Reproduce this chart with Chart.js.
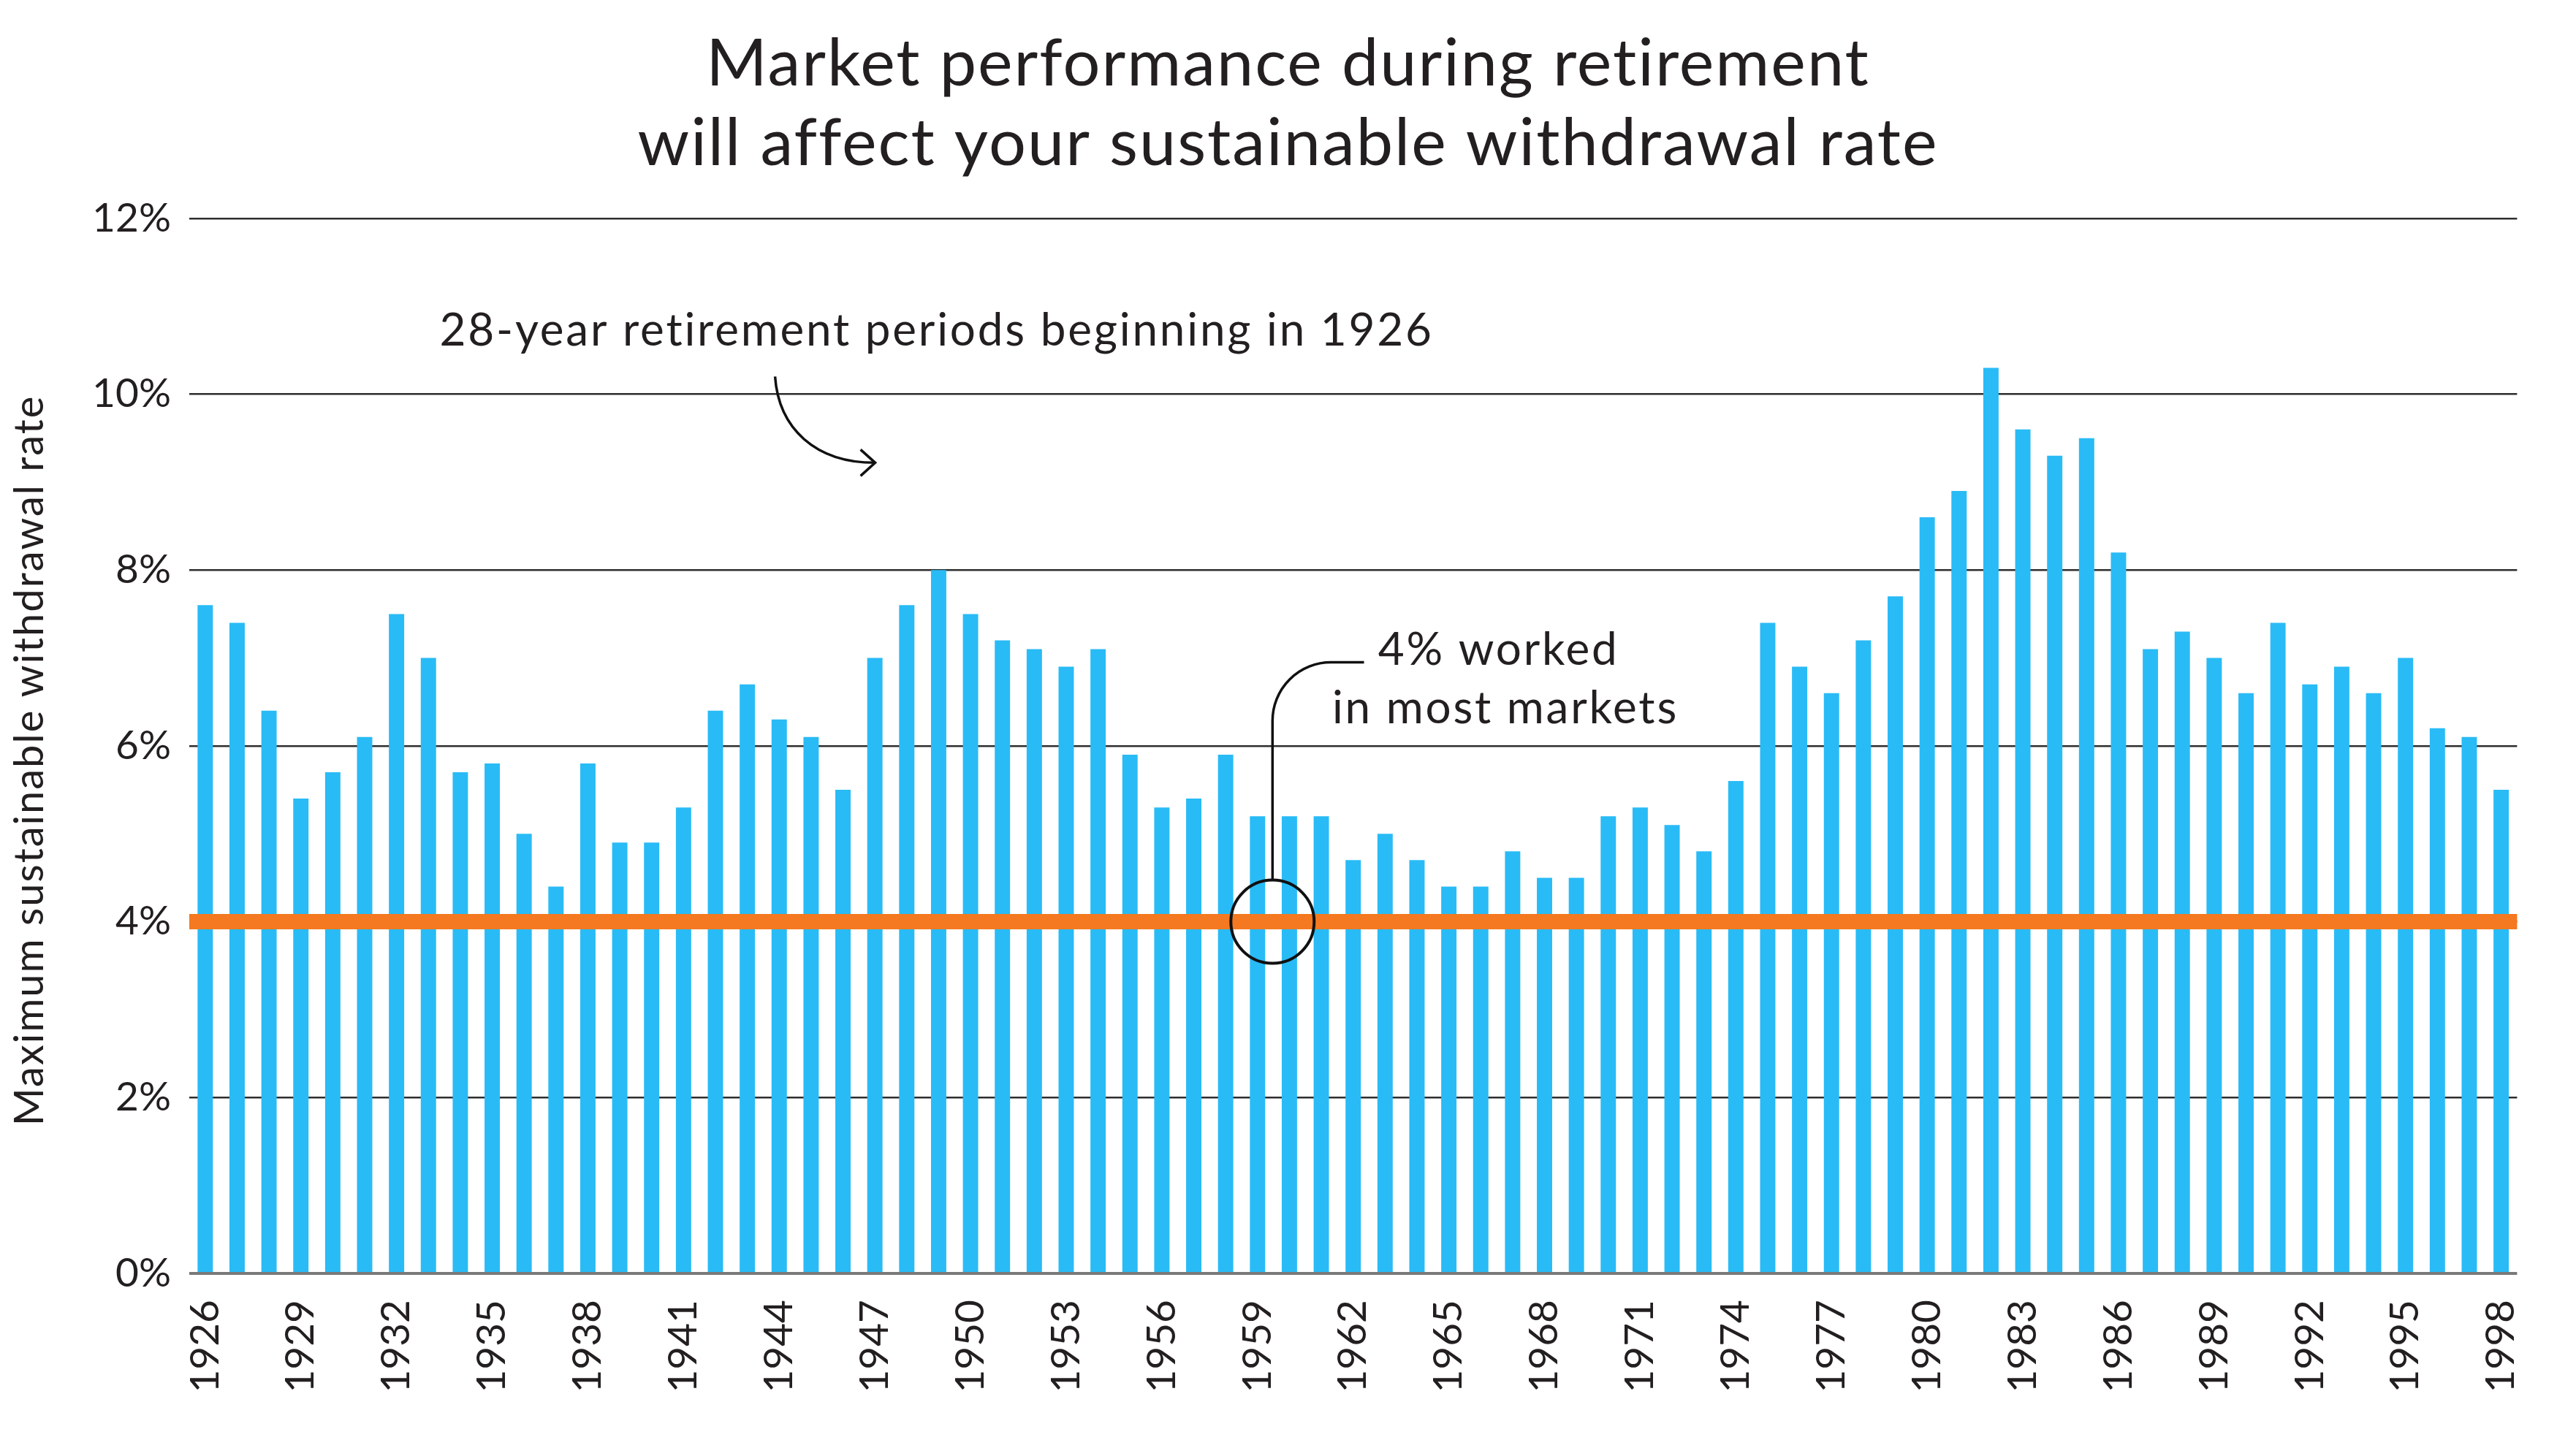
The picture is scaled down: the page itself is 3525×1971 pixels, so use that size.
<!DOCTYPE html>
<html>
<head>
<meta charset="utf-8">
<script src="https://cdn.jsdelivr.net/npm/chart.js@4.4.1/dist/chart.umd.min.js"></script>
<style>
  html, body { margin: 0; padding: 0; background: #fff; }
  #wrap { width: 3525px; height: 1971px; }
</style>
</head>
<body>
<div id="wrap"><canvas id="withdrawal-chart"></canvas></div>
<script>
// Chart data
const years = [
    '1926', '1927', '1928', '1929', '1930', '1931', '1932', '1933', '1934', '1935',
    '1936', '1937', '1938', '1939', '1940', '1941', '1942', '1943', '1944', '1945',
    '1946', '1947', '1948', '1949', '1950', '1951', '1952', '1953', '1954', '1955',
    '1956', '1957', '1958', '1959', '1960', '1961', '1962', '1963', '1964', '1965',
    '1966', '1967', '1968', '1969', '1970', '1971', '1972', '1973', '1974', '1975',
    '1976', '1977', '1978', '1979', '1980', '1981', '1982', '1983', '1984', '1985',
    '1986', '1987', '1988', '1989', '1990', '1991', '1992', '1993', '1994', '1995',
    '1996', '1997', '1998'
];
const withdrawalRates = [
    7.6, 7.4, 6.4, 5.4, 5.7, 6.1, 7.5, 7.0, 5.7, 5.8,
    5.0, 4.4, 5.8, 4.9, 4.9, 5.3, 6.4, 6.7, 6.3, 6.1,
    5.5, 7.0, 7.6, 8.0, 7.5, 7.2, 7.1, 6.9, 7.1, 5.9,
    5.3, 5.4, 5.9, 5.2, 5.2, 5.2, 4.7, 5.0, 4.7, 4.4,
    4.4, 4.8, 4.5, 4.5, 5.2, 5.3, 5.1, 4.8, 5.6, 7.4,
    6.9, 6.6, 7.2, 7.7, 8.6, 8.9, 10.3, 9.6, 9.3, 9.5,
    8.2, 7.1, 7.3, 7.0, 6.6, 7.4, 6.7, 6.9, 6.6, 7.0,
    6.2, 6.1, 5.5
];
const yTickValues = [0, 2, 4, 6, 8, 10, 12];
const ruleOfThumbRate = 4;
const labelEvery = 3;

const titleLines = [
    'Market performance during retirement',
    'will affect your sustainable withdrawal rate'
];
const yAxisTitle = 'Maximum sustainable withdrawal rate';
const periodNote = '28-year retirement periods beginning in 1926';
const workedNote = ['4% worked', 'in most markets'];

const fontFamily = 'Lato, "Noto Sans", sans-serif';
const textColor = '#231f20';
const barColor = '#29bbf6';
const orangeColor = '#f47920';

// Annotation layer: 4% rule line, callouts, arrow and the spaced-out texts
const annotationPlugin = {
    id: 'annotations',
    afterDatasetsDraw(chart) {
        const ctx = chart.ctx;
        const area = chart.chartArea;
        const x = chart.scales.x;
        const y = chart.scales.y;

        ctx.save();

        // 4% line
        const y4 = y.getPixelForValue(ruleOfThumbRate);
        ctx.strokeStyle = orangeColor;
        ctx.lineWidth = 21;
        ctx.beginPath();
        ctx.moveTo(area.left, y4);
        ctx.lineTo(area.right, y4);
        ctx.stroke();

        // circle on the 4% line and its connector
        const cx = x.getPixelForValue(33.47);
        const r = 57;
        ctx.strokeStyle = '#111';
        ctx.lineWidth = 4;
        ctx.beginPath();
        ctx.arc(cx, y4, r, 0, Math.PI * 2);
        ctx.stroke();

        const lineY = y.getPixelForValue(6.95);
        ctx.lineWidth = 3.5;
        ctx.beginPath();
        ctx.moveTo(x.getPixelForValue(36.34), lineY);
        ctx.arcTo(cx, lineY, cx, y4 - r, 80);
        ctx.lineTo(cx, y4 - r);
        ctx.stroke();

        // curved arrow under the period note
        const sx = x.getPixelForValue(17.87), sy = y.getPixelForValue(10.2);
        const ex = x.getPixelForValue(21.01), ey = y.getPixelForValue(9.22);
        ctx.beginPath();
        ctx.moveTo(sx, sy);
        ctx.bezierCurveTo(sx + 5, sy + (ey - sy) * 0.6, sx + (ex - sx) * 0.4, ey, ex, ey);
        ctx.stroke();
        ctx.beginPath();
        ctx.moveTo(ex - 20, ey - 18);
        ctx.lineTo(ex, ey);
        ctx.lineTo(ex - 20, ey + 18);
        ctx.stroke();

        // annotation texts
        ctx.fillStyle = textColor;
        ctx.font = '62px ' + fontFamily;
        ctx.letterSpacing = '2.8px';
        ctx.textAlign = 'left';
        ctx.textBaseline = 'alphabetic';
        ctx.fillText(periodNote, x.getPixelForValue(7.35), y.getPixelForValue(10.55));
        ctx.fillText(workedNote[0], x.getPixelForValue(36.78), y.getPixelForValue(6.92));
        ctx.fillText(workedNote[1], x.getPixelForValue(35.34), y.getPixelForValue(6.26));

        ctx.restore();
    },
    afterDraw(chart) {
        const ctx = chart.ctx;
        const area = chart.chartArea;
        ctx.save();
        ctx.fillStyle = textColor;
        ctx.textBaseline = 'alphabetic';
        ctx.textAlign = 'center';

        // main title, centred on the whole canvas
        ctx.font = '90px ' + fontFamily;
        ctx.letterSpacing = '2px';
        ctx.fillText(titleLines[0], chart.width / 2, 117);
        ctx.fillText(titleLines[1], chart.width / 2, 226);

        // y axis title
        ctx.font = '56px ' + fontFamily;
        ctx.letterSpacing = '2px';
        ctx.translate(59, (area.top + area.bottom) / 2 + 20);
        ctx.rotate(-Math.PI / 2);
        ctx.fillText(yAxisTitle, 0, 0);
        ctx.restore();
    }
};

function withdrawalChartConfig() {
    const data = {
        labels: years,
        datasets: [
            {
                data: withdrawalRates,
                backgroundColor: barColor,
                borderWidth: 0,
                barPercentage: 0.48,
                categoryPercentage: 1.0
            }
        ]
    };

    const config = {
        type: 'bar',
        data: data,
        options: {
            responsive: true,
            maintainAspectRatio: false,
            animation: false,
            devicePixelRatio: 1,
            layout: {
                padding: { left: 0, right: 61, top: 0, bottom: 0 }
            },
            plugins: {
                legend: { display: false },
                tooltip: { enabled: false },
                // keeps the room for the title; the text itself is drawn by the plugin
                title: {
                    display: true,
                    text: titleLines,
                    color: 'rgba(0,0,0,0)',
                    font: { family: fontFamily, size: 90, weight: 'normal', lineHeight: 1.21 },
                    padding: { top: 35, bottom: 46 }
                }
            },
            scales: {
                x: {
                    grid: { display: false, drawTicks: false },
                    border: { display: false },
                    ticks: {
                        autoSkip: false,
                        minRotation: 90,
                        maxRotation: 90,
                        padding: 36,
                        color: textColor,
                        font: { family: fontFamily, size: 55 },
                        callback: function (value, index) {
                            return index % labelEvery === 0 ? this.getLabelForValue(value) : '';
                        }
                    },
                    afterFit: function (scale) {
                        scale.height = 228;
                    }
                },
                y: {
                    min: 0,
                    max: 12,
                    afterBuildTicks: function (scale) {
                        scale.ticks = yTickValues.map(v => ({ value: v }));
                    },
                    grid: {
                        drawTicks: false,
                        color: ctx => ctx.tick.value === 0 ? '#7a7a7a' : '#2e2e2e',
                        lineWidth: ctx => ctx.tick.value === 0 ? 4 : 2.5
                    },
                    border: { display: false },
                    ticks: {
                        padding: 25,
                        color: textColor,
                        font: { family: fontFamily, size: 55 },
                        callback: v => v + '%'
                    },
                    afterFit: function (scale) {
                        scale.width = 259;
                    }
                }
            }
        },
        plugins: [annotationPlugin]
    };
    return config;
}

const ctxWithdrawal = document.getElementById('withdrawal-chart');
new Chart(ctxWithdrawal, withdrawalChartConfig());
</script>
</body>
</html>
